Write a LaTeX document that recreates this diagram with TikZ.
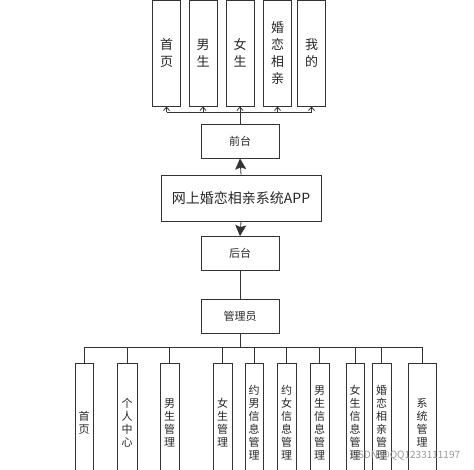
\documentclass[tikz,border=0pt]{standalone}
\usepackage{fontspec}
\newfontfamily\cjk{Noto Sans CJK SC}
\usetikzlibrary{arrows.meta}
\tikzset{>={Stealth[length=11pt,width=11pt,inset=2pt]},
  topbox/.style={draw, inner sep=0pt, minimum width=28pt, minimum height=106pt, align=center, font=\cjk\fontsize{13}{17}\selectfont, text=black!85},
  midbox/.style={draw, inner sep=0pt, minimum width=78pt, minimum height=34pt, font=\cjk\fontsize{11}{13}\selectfont, text=black!85},
  subbox/.style={draw, inner sep=0pt, minimum height=120pt, align=center, font=\cjk\fontsize{11}{13}\selectfont, text=black!85},
  barb/.style={-{Straight Barb[length=3.5pt,width=6pt]}}}

\begin{document}
\begin{tikzpicture}[x=1pt,y=-1pt, line width=0.8pt, black!80]
\useasboundingbox (0,0) rectangle (474,469);
\clip (0,0) rectangle (474,469);
% front end
\node[topbox] (T1) at (166.5,53) {首\\页};
\node[topbox] (T2) at (203,53) {男\\生};
\node[topbox] (T3) at (240,53) {女\\生};
\node[topbox] (T4) at (277.5,53) {婚\\恋\\相\\亲};
\node[topbox] (T5) at (311.5,53) {我\\的};
\node[midbox] (Q) at (240,141) {前台};
\node[midbox, minimum width=160pt, minimum height=46pt, font=\cjk\fontsize{14}{16}\selectfont] (A) at (241,198) {网上婚恋相亲系统APP};
\node[midbox] (H) at (240,253.5) {后台};
\node[midbox] (M) at (240,316.5) {管理员};
\coordinate (b1) at (240,112);
\coordinate (b2) at (240,347);
\draw (Q.north) -- (b1);
\draw (T1 |- b1) -- (T5 |- b1);
\foreach \i in {1,...,5}
  \draw[barb] (T\i |- b1) -- (T\i.south);
\draw[->] (A.north) -- (Q.south);
\draw[->] (A.south) -- (H.north);
\draw (H.south) -- (M.north);
\draw (M.south) -- (b2);
% back end
\foreach \x/\w/\t [count=\i] in {84/18/{首\\页}, 127/20/{个\\人\\中\\心}, 169.5/19/{男\\生\\管\\理},
  222.5/19/{女\\生\\管\\理}, 254/18/{约\\男\\信\\息\\管\\理}, 286.5/19/{约\\女\\信\\息\\管\\理},
  319.5/19/{男\\生\\信\\息\\管\\理}, 355/18/{女\\生\\信\\息\\管\\理}, 381.5/19/{婚\\恋\\相\\亲\\管\\理},
  422/28/{系\\统\\管\\理}}
  \node[subbox, minimum width=\w pt] (S\i) at (\x,423) {\t};
\draw (S1 |- b2) -- (S10 |- b2);
\foreach \i in {1,...,10}
  \draw (S\i |- b2) -- (S\i.north);
\node[text=black!40, font=\cjk\fontsize{10}{12}\selectfont] (W) at (406,456) {CSDN @QQ1233111197};
\end{tikzpicture}
\end{document}
